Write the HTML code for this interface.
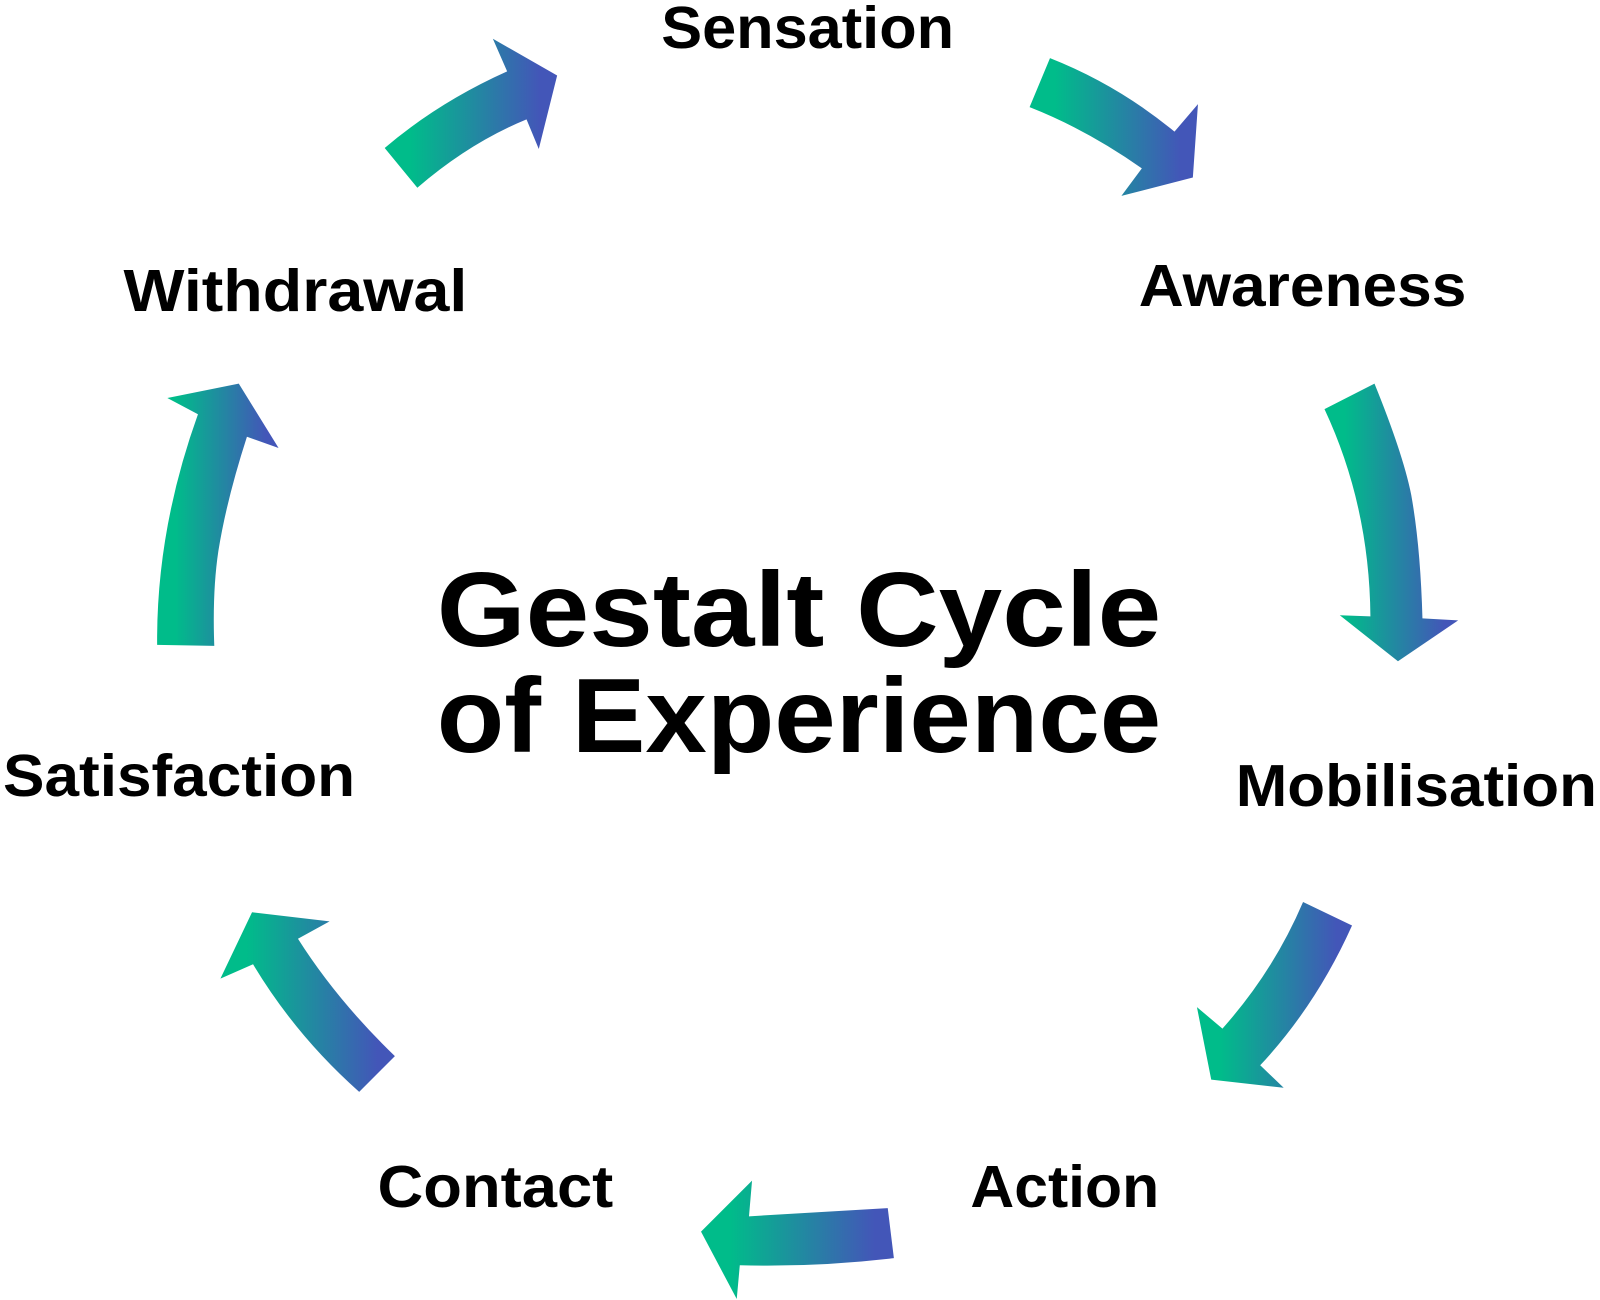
<!DOCTYPE html>
<html><head><meta charset="utf-8"><style>
html,body{margin:0;padding:0;background:#fff;}
svg{display:block;}
text{font-family:"Liberation Sans",sans-serif;font-weight:bold;fill:#000;}
</style></head><body>
<svg width="1600" height="1300" viewBox="0 0 1568 1274" preserveAspectRatio="none" xmlns="http://www.w3.org/2000/svg">
<defs>
<linearGradient id="g" x1="0" y1="0" x2="1" y2="0">
<stop offset="0.15" stop-color="#00BC8A"/>
<stop offset="0.9" stop-color="#4356B8"/>
</linearGradient>
</defs>
<path fill="url(#g)" d="M377,145 Q430,100 497,70 L483,38 L546,74 L528,146 L516,117 Q460,140 409,184 Z"/>
<path fill="url(#g)" d="M1029,57 Q1095,83 1151,129 L1174,102 L1169,174 L1099,192 L1119,165 Q1065,127 1009,105 Z"/>
<path fill="url(#g)" d="M1347,376 Q1375,445 1383,485 Q1392,535 1394,606 L1429,608 L1370,648 L1313,603 L1343,604 Q1342,495 1298,401 Z"/>
<path fill="url(#g)" d="M1325,907 Q1290,985 1235,1044 L1258,1066 L1187,1058 L1173,987 L1198,1008 Q1248,952 1277,884 Z"/>
<path fill="url(#g)" d="M870,1184 L876,1233 Q800,1242 725,1240 L722,1273 L687,1207 L737,1157 L734,1192 Z"/>
<path fill="url(#g)" d="M387,1035 L352,1070 Q290,1015 248,945 L216,959 L247,894 L323,903 L292,920 Q330,980 387,1035 Z"/>
<path fill="url(#g)" d="M210,633 L154,632 Q153,520 194,406 L164,390 L234,376 L273,439 L242,428 Q222,490 214,540 Q208,580 210,633 Z"/>

<text x="648" y="47" font-size="58" textLength="287" lengthAdjust="spacingAndGlyphs">Sensation</text>
<text x="1116" y="300" font-size="58" textLength="321" lengthAdjust="spacingAndGlyphs">Awareness</text>
<text x="121" y="305" font-size="58" textLength="337" lengthAdjust="spacingAndGlyphs">Withdrawal</text>
<text x="1211" y="790" font-size="58" textLength="354" lengthAdjust="spacingAndGlyphs">Mobilisation</text>
<text x="3" y="780" font-size="58" textLength="345" lengthAdjust="spacingAndGlyphs">Satisfaction</text>
<text x="370" y="1183" font-size="58" textLength="231" lengthAdjust="spacingAndGlyphs">Contact</text>
<text x="951" y="1183" font-size="58" textLength="185" lengthAdjust="spacingAndGlyphs">Action</text>
<text x="428" y="633" font-size="104" font-weight="600" textLength="710" lengthAdjust="spacingAndGlyphs">Gestalt Cycle</text>
<text x="428" y="737" font-size="104" font-weight="600" textLength="710" lengthAdjust="spacingAndGlyphs">of Experience</text>
</svg>
</body></html>
